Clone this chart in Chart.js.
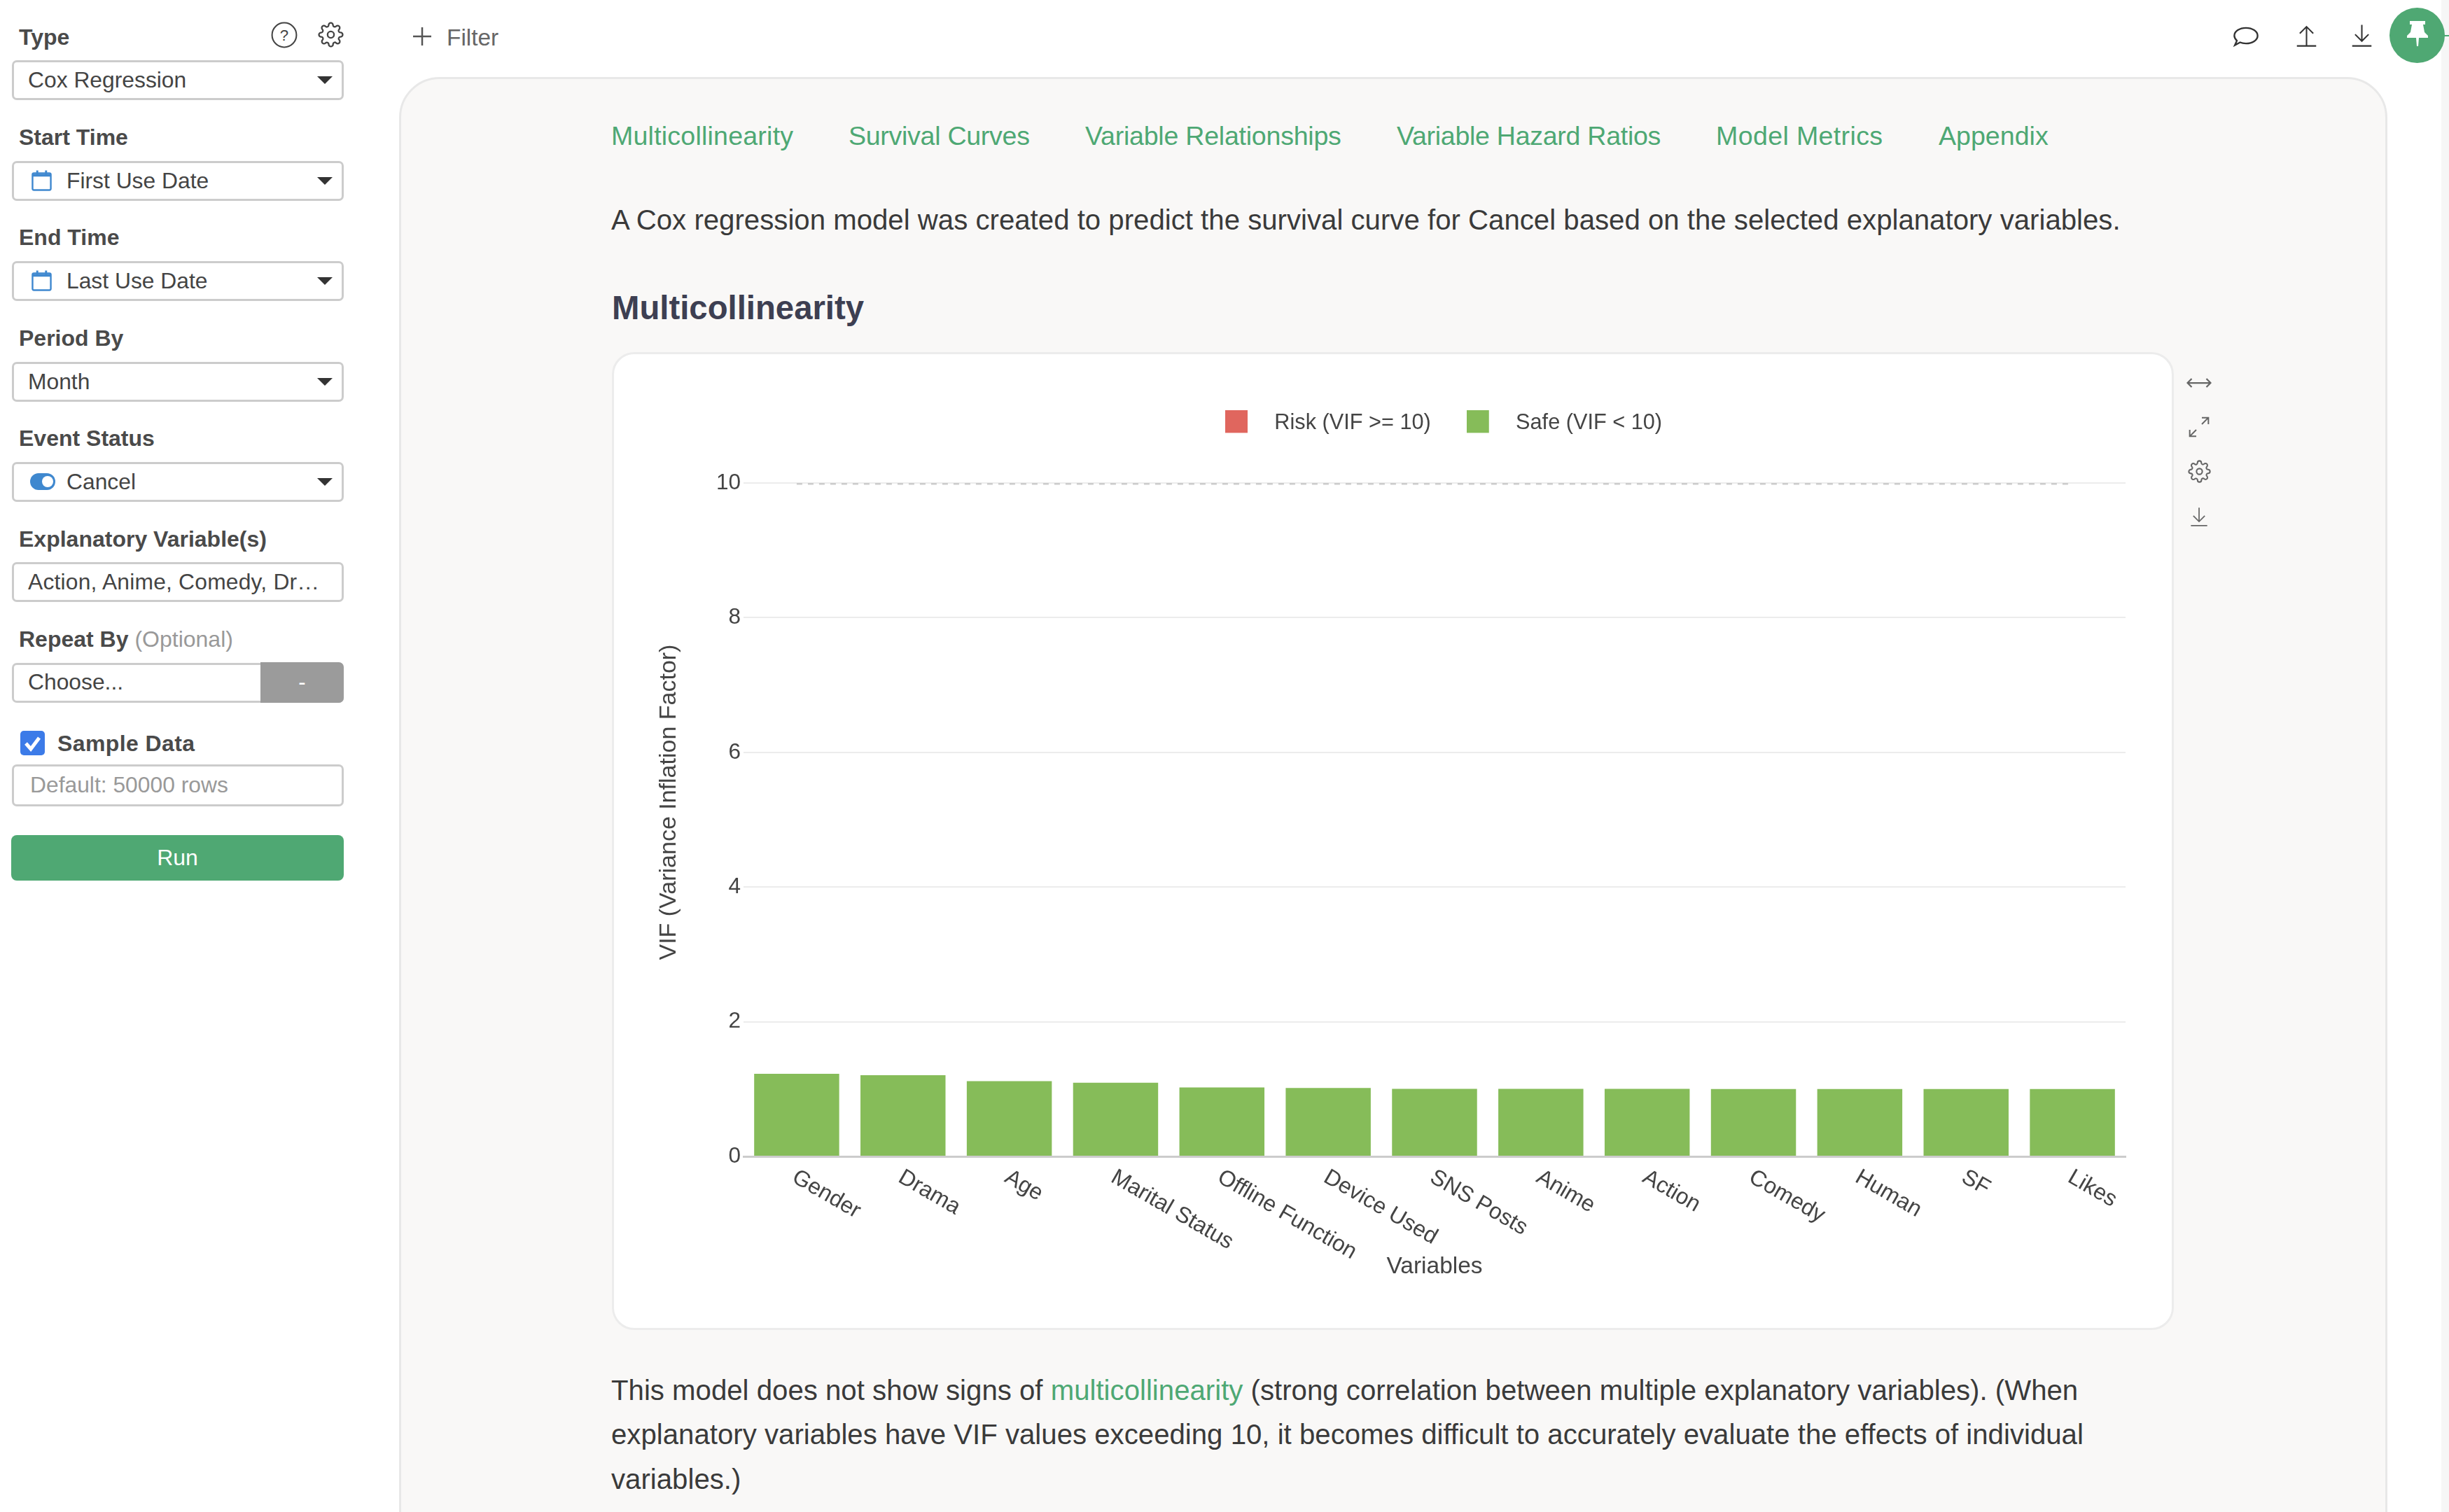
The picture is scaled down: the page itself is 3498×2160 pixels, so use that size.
<!DOCTYPE html>
<html>
<head>
<meta charset="utf-8">
<title>Multicollinearity</title>
<script src="https://cdn.jsdelivr.net/npm/chart.js@4"></script>
<style>
html, body { margin: 0; background: #fff; overflow: hidden; }
body { width: 3498px; height: 2160px; position: relative; font-family: "Liberation Sans", sans-serif; color: #333; }
.t { position: absolute; white-space: nowrap; line-height: 1; }
.label { font-size: 32px; font-weight: bold; color: #4a4a4a; left: 27px; }
.val { font-size: 31.8px; color: #444; }
.box { position: absolute; left: 17px; width: 474px; box-sizing: border-box; background: #fff; border: 3px solid #ccc; border-radius: 7px; }
.caret { position: absolute; left: 453px; width: 0; height: 0; border-left: 11px solid transparent; border-right: 11px solid transparent; border-top: 11px solid #333; }
.tab { font-size: 37.6px; color: #4ea874; top: 176px; }
.para { font-size: 40.2px; color: #3a3a3a; left: 873px; }
.link { color: #4ea874; }
.icon { position: absolute; fill: none; stroke: #444; stroke-width: 1.5; }
#panel { position: absolute; left: 570px; top: 110px; width: 2840px; height: 2200px; box-sizing: border-box; background: #f9f8f7; border: 3px solid #e8e8e8; border-radius: 58px; }
#card { position: absolute; left: 874px; top: 503px; width: 2231px; height: 1397px; box-sizing: border-box; background: #fff; border: 3px solid #ececec; border-radius: 32px; }
#chartWrap { position: absolute; left: 876px; top: 506px; width: 2226px; height: 1392px; }
</style>
</head>
<body>
<svg width="0" height="0" style="position:absolute">
  <symbol id="gear" viewBox="0 0 24 24"><circle cx="12" cy="12" r="3"/><path d="M19.4 15a1.65 1.65 0 0 0 .33 1.82l.06.06a2 2 0 0 1 0 2.83 2 2 0 0 1-2.83 0l-.06-.06a1.65 1.65 0 0 0-1.82-.33 1.65 1.65 0 0 0-1 1.51V21a2 2 0 0 1-2 2 2 2 0 0 1-2-2v-.09A1.65 1.65 0 0 0 9 19.4a1.65 1.65 0 0 0-1.82.33l-.06.06a2 2 0 0 1-2.83 0 2 2 0 0 1 0-2.83l.06-.06a1.65 1.65 0 0 0 .33-1.82 1.65 1.65 0 0 0-1.51-1H3a2 2 0 0 1-2-2 2 2 0 0 1 2-2h.09A1.65 1.65 0 0 0 4.6 9a1.65 1.65 0 0 0-.33-1.82l-.06-.06a2 2 0 0 1 0-2.83 2 2 0 0 1 2.83 0l.06.06a1.65 1.65 0 0 0 1.82.33H9a1.65 1.65 0 0 0 1-1.51V3a2 2 0 0 1 2-2 2 2 0 0 1 2 2v.09a1.65 1.65 0 0 0 1 1.51 1.65 1.65 0 0 0 1.82-.33l.06-.06a2 2 0 0 1 2.83 0 2 2 0 0 1 0 2.83l-.06.06a1.65 1.65 0 0 0-.33 1.82V9a1.65 1.65 0 0 0 1.51 1H21a2 2 0 0 1 2 2 2 2 0 0 1-2 2h-.09a1.65 1.65 0 0 0-1.51 1z"/></symbol>
  <symbol id="down" viewBox="0 0 24 24"><path d="M12 1v17M5 11l7 7 7-7M2 23h20"/></symbol>
  <symbol id="up" viewBox="0 0 24 24"><path d="M12 23V3M5 10l7-7 7 7M2 23h20"/></symbol>
  <symbol id="cal" viewBox="0 0 30 30"><rect x="1.5" y="4" width="27" height="25" rx="2" fill="none" stroke="#3f88cf" stroke-width="2.5"/><path d="M1.5 5h27v4h-27zM7 0h3v5H7zM20 0h3v5h-3z" fill="#3f88cf"/></symbol>
</svg>

<!-- sidebar -->
<div class="t label" style="top:37px">Type</div>
<svg class="icon" style="left:387px;top:31px;stroke-width:1.3" width="38" height="38" viewBox="0 0 24 24"><circle cx="12" cy="12" r="11"/><text x="12" y="17" text-anchor="middle" font-size="14" fill="#444" stroke="none" font-family="Liberation Sans">?</text></svg>
<svg class="icon" style="left:454px;top:31px" width="37" height="37"><use href="#gear"/></svg>
<div class="box" style="top:86px;height:57px"></div>
<div class="t val" style="left:40px;top:99px">Cox Regression</div>
<div class="caret" style="top:109px"></div>

<div class="t label" style="top:180px">Start Time</div>
<div class="box" style="top:230px;height:57px"></div>
<svg style="position:absolute;left:45px;top:243px" width="29" height="30"><use href="#cal"/></svg>
<div class="t val" style="left:95px;top:243px">First Use Date</div>
<div class="caret" style="top:253px"></div>

<div class="t label" style="top:323px">End Time</div>
<div class="box" style="top:373px;height:57px"></div>
<svg style="position:absolute;left:45px;top:386px" width="29" height="30"><use href="#cal"/></svg>
<div class="t val" style="left:95px;top:386px">Last Use Date</div>
<div class="caret" style="top:396px"></div>

<div class="t label" style="top:467px">Period By</div>
<div class="box" style="top:517px;height:57px"></div>
<div class="t val" style="left:40px;top:530px">Month</div>
<div class="caret" style="top:540px"></div>

<div class="t label" style="top:610px">Event Status</div>
<div class="box" style="top:660px;height:57px"></div>
<div style="position:absolute;left:43px;top:676px;width:36px;height:24px;border-radius:12px;background:#3f88cf"></div>
<div style="position:absolute;left:60px;top:680px;width:16px;height:16px;border-radius:8px;background:#fff"></div>
<div class="t val" style="left:95px;top:673px">Cancel</div>
<div class="caret" style="top:683px"></div>

<div class="t label" style="top:754px">Explanatory Variable(s)</div>
<div class="box" style="top:803px;height:57px"></div>
<div class="t val" style="left:40px;top:816px;letter-spacing:.2px">Action, Anime, Comedy, Dr…</div>

<div class="t label" style="top:897px">Repeat By <span style="font-weight:normal;color:#999">(Optional)</span></div>
<div class="box" style="top:947px;height:57px"></div>
<div style="position:absolute;left:372px;top:946px;width:119px;height:58px;background:#9b9b9b;border-radius:0 7px 7px 0;color:#fff;font-size:31px;line-height:58px;text-align:center">-</div>
<div class="t val" style="left:40px;top:959px">Choose...</div>

<div style="position:absolute;left:29px;top:1044px;width:35px;height:35px;border-radius:5px;background:#3c7be8"></div>
<svg style="position:absolute;left:29px;top:1044px" width="35" height="35"><path d="M8 18l7 8 12-16" fill="none" stroke="#fff" stroke-width="5"/></svg>
<div class="t label" style="left:82px;top:1046px;letter-spacing:.4px">Sample Data</div>
<div class="box" style="top:1092px;height:60px"></div>
<div class="t val" style="left:43px;top:1106px;color:#999">Default: 50000 rows</div>
<div style="position:absolute;left:16px;top:1193px;width:475px;height:65px;border-radius:8px;background:#4fa873;color:#fff;font-size:32px;line-height:65px;text-align:center">Run</div>

<!-- top bar -->
<svg style="position:absolute;left:589px;top:38px" width="28" height="28"><path d="M14 1v26M1 14h26" stroke="#555" stroke-width="2.5"/></svg>
<div class="t" style="left:638px;top:37px;font-size:33.4px;color:#666">Filter</div>
<svg class="icon" style="left:3189px;top:32px;stroke:#333" width="38" height="38" viewBox="0 0 24 24"><path d="M2 20.5l1.8-4C2.3 15 1.5 13.600 1.500 12c0-4 4.700-7 10.500-7s10.500 3 10.500 7-4.700 7-10.500 7c-2 0-3.800-.3-5.300-1z"/></svg>
<svg class="icon" style="left:3278px;top:34px;stroke:#333" width="33" height="33"><use href="#up"/></svg>
<svg class="icon" style="left:3357px;top:34px;stroke:#333" width="33" height="33"><use href="#down"/></svg>
<div style="position:absolute;left:3487px;top:0;width:11px;height:2160px;background:#f6f6f6"></div>
<div style="position:absolute;left:3487px;top:50px;width:11px;height:2px;background:#4fa873"></div>
<div style="position:absolute;left:3413px;top:11px;width:79px;height:79px;border-radius:50%;background:#4fa873"></div>
<svg style="position:absolute;left:3437px;top:29px" width="32" height="40" viewBox="0 0 32 40"><path d="M5 1h22v5h-3l2 11 5 5v3H1v-3l5-5 2-11H5zM14 25h4l-1 12h-2z" fill="#fff"/></svg>

<!-- main panel -->
<div id="panel"></div>
<div class="t tab" style="left:873px;letter-spacing:.2px">Multicollinearity</div>
<div class="t tab" style="left:1212px;letter-spacing:-.3px">Survival Curves</div>
<div class="t tab" style="left:1550px;letter-spacing:-.25px">Variable Relationships</div>
<div class="t tab" style="left:1995px;letter-spacing:-.3px">Variable Hazard Ratios</div>
<div class="t tab" style="left:2451px;letter-spacing:.35px">Model Metrics</div>
<div class="t tab" style="left:2769px">Appendix</div>
<div class="t para" style="top:295px">A Cox regression model was created to predict the survival curve for Cancel based on the selected explanatory variables.</div>
<div class="t" style="left:874px;top:416px;font-size:47.3px;font-weight:bold;color:#3d3f52">Multicollinearity</div>

<div id="card"></div>
<div id="chartWrap"><canvas id="vifChart" width="2226" height="1392"></canvas></div>

<svg class="icon" style="left:3123px;top:529px;stroke:#666" width="36" height="36" viewBox="0 0 24 24"><path d="M1 12h22M5 8l-4 4 4 4M19 8l4 4-4 4"/></svg>
<svg class="icon" style="left:3125px;top:594px;stroke:#666" width="32" height="32" viewBox="0 0 24 24"><path d="M2 22l7-7M15 9l7-7M15 2h7v7M2 15v7h7"/></svg>
<svg class="icon" style="left:3125px;top:657px;stroke:#666" width="33" height="33"><use href="#gear"/></svg>
<svg class="icon" style="left:3127px;top:723px;stroke:#666" width="28" height="30"><use href="#down"/></svg>

<div class="t para" style="top:1967px">This model does not show signs of <span class="link">multicollinearity</span> (strong correlation between multiple explanatory variables). (When</div>
<div class="t para" style="top:2030px">explanatory variables have VIF values exceeding 10, it becomes difficult to accurately evaluate the effects of individual</div>
<div class="t para" style="top:2094px">variables.)</div>

<script>
var categories = ['Gender', 'Drama', 'Age', 'Marital Status', 'Offline Function', 'Device Used', 'SNS Posts', 'Anime', 'Action', 'Comedy', 'Human', 'SF', 'Likes'];
var safeValues = [1.226, 1.205, 1.118, 1.094, 1.024, 1.017, 1.003, 1.002, 1.002, 1.001, 1.001, 1.0, 1.0];
var riskValues = [];
var thresholdValues = [10, 10, 10, 10, 10, 10, 10, 10, 10, 10, 10, 10, 10];
var seriesNames = ['Risk (VIF >= 10)', 'Safe (VIF < 10)'];
var seriesColors = ['#e0665e', '#86bc59'];

// legend swatch with some empty room on the right, chart.js has a fixed box/text gap otherwise
function makeSwatch(color) {
    var c = document.createElement('canvas');
    c.width = 55;
    c.height = 36;
    var g = c.getContext('2d');
    g.fillStyle = color;
    g.fillRect(0, 0, 32, 32);
    return c;
}

var textColor = '#444';
var chartFont = 'Liberation Sans';

// the legend sits a little right of the plot centre
var legendNudge = {
    id: 'legendNudge',
    afterLayout: function (chart) {
        chart.legend.left += 13;
        chart.legend.right += 13;
    }
};

var vifChart = new Chart(document.getElementById('vifChart').getContext('2d'), {
    type: 'bar',
    plugins: [legendNudge],
    data: {
        labels: categories,
        datasets: [
            { label: seriesNames[0], data: riskValues, backgroundColor: seriesColors[0], grouped: false, barPercentage: 1, categoryPercentage: 0.8 },
            { label: seriesNames[1], data: safeValues, backgroundColor: seriesColors[1], grouped: false, barPercentage: 1, categoryPercentage: 0.8 },
            { type: 'line', label: 'threshold', data: thresholdValues, borderColor: '#cccccc', borderWidth: 5, borderDash: [8, 8], pointRadius: 0, fill: false }
        ]
    },
    options: {
        responsive: false,
        animation: false,
        devicePixelRatio: 1,
        layout: { padding: { left: 59, right: 66, top: 32, bottom: 68 } },
        scales: {
            x: {
                beforeUpdate: function (scale) {
                    // labels start at the tick and run down to the right
                    scale._getXAxisLabelAlignment = function () { return 'left'; };
                },
                afterFit: function (scale) { scale.height = 178; },
                grid: { display: false },
                border: { color: '#ccc', width: 3 },
                ticks: { minRotation: -30, maxRotation: -30, autoSkip: false, padding: 3, labelOffset: -4, color: textColor, font: { family: chartFont, size: 32 } },
                title: { display: true, text: 'Variables', color: textColor, font: { family: chartFont, size: 33.5 }, padding: 0 }
            },
            y: {
                min: 0,
                max: 10,
                beforeUpdate: function (scale) {
                    if (scale.titleMoved) return;
                    scale.titleMoved = true;
                    var drawTitle = scale.drawTitle;
                    scale.drawTitle = function () {
                        this.ctx.save();
                        this.ctx.translate(0, -25);
                        drawTitle.call(this);
                        this.ctx.restore();
                    };
                },
                afterFit: function (scale) { scale.width = 127; },
                grid: { color: '#ececec', lineWidth: 2, drawTicks: false },
                border: { display: false },
                ticks: { stepSize: 2, padding: 4, color: textColor, font: { family: chartFont, size: 31.5 } },
                title: { display: true, text: 'VIF (Variance Inflation Factor)', color: textColor, font: { family: chartFont, size: 34 }, padding: 0 }
            }
        },
        plugins: {
            tooltip: { enabled: false },
            // empty block, keeps the gap between the legend and the plot
            subtitle: { display: true, text: '', fullSize: false, padding: { top: 0, bottom: 46 } },
            legend: {
                position: 'top',
                fullSize: false,
                weight: 3000,
                labels: {
                    usePointStyle: true,
                    pointStyleWidth: 55,
                    padding: 51,
                    color: textColor,
                    font: { family: chartFont, size: 30.7 },
                    filter: function (item) { return item.datasetIndex < 2; },
                    generateLabels: function (chart) {
                        var items = Chart.defaults.plugins.legend.labels.generateLabels(chart);
                        items.forEach(function (item) {
                            if (item.datasetIndex < 2) item.pointStyle = makeSwatch(seriesColors[item.datasetIndex]);
                        });
                        return items;
                    }
                }
            }
        }
    }
});
</script>
</body>
</html>
